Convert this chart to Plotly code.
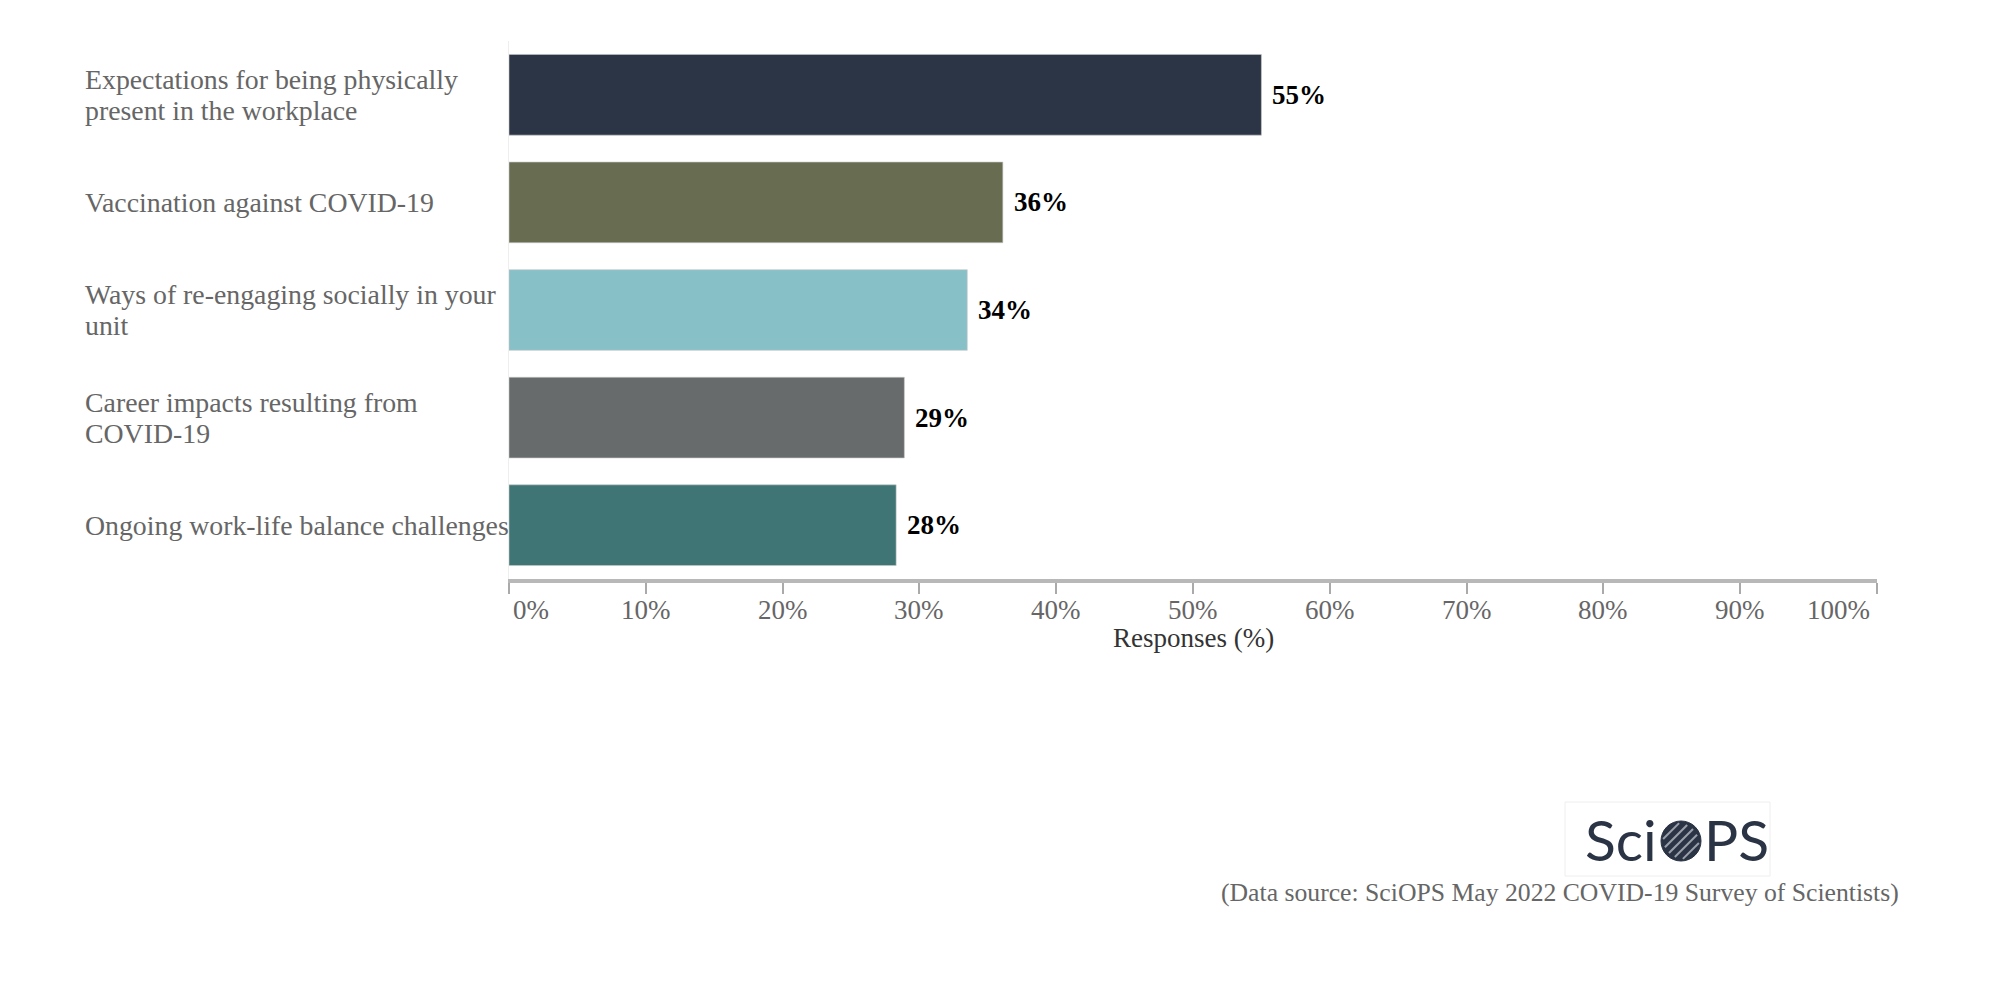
import math
import plotly.graph_objects as go

# ---- data ----
categories = [
    "Expectations for being physically<br>present in the workplace",
    "Vaccination against COVID-19",
    "Ways of re-engaging socially in your<br>unit",
    "Career impacts resulting from<br>COVID-19",
    "Ongoing work-life balance challenges",
]
values = [55.0, 36.1, 33.5, 28.9, 28.3]
value_labels = ["55%", "36%", "34%", "29%", "28%"]
bar_colors = ["#2c3546", "#686c51", "#88c0c8", "#676b6b", "#3f7574"]
tick_values = [0, 10, 20, 30, 40, 50, 60, 70, 80, 90, 100]
tick_labels = ["0%", "10%", "20%", "30%", "40%", "50%", "60%", "70%", "80%", "90%", "100%"]
x_title = "Responses (%)"
source_text = "(Data source: SciOPS May 2022 COVID-19 Survey of Scientists)"

W, H = 1990, 988
L, R, T, B = 509, 113, 41, 409
PW = W - L - R
PH = H - T - B
SERIF = "Liberation Serif, Times New Roman, serif"


def px(x):
    return (x - L) / PW


def py(y):
    return (H - B - y) / PH


ids = list(range(len(categories)))

fig = go.Figure()
fig.add_trace(go.Bar(
    x=values, y=ids, orientation="h", width=0.75,
    marker=dict(color=bar_colors, line=dict(width=1, color="rgba(200,200,200,0.6)")),
    hoverinfo="skip",
))

ann = []
# category labels (left-aligned, custom line spacing)
for i, c in enumerate(categories):
    lines = c.split("<br>")
    n = len(lines)
    for j, ln in enumerate(lines):
        shift = (j - (n - 1) / 2) * -31
        ann.append(dict(x=px(83), xref="paper", y=i, yref="y", text=ln,
                        xanchor="left", yanchor="middle", showarrow=False,
                        yshift=shift, font=dict(family=SERIF, size=27.8, color="#666666")))

# value labels
for i, (v, t) in enumerate(zip(values, value_labels)):
    ann.append(dict(x=v, xref="x", y=i, yref="y", text="<b>%s</b>" % t,
                    xanchor="left", yanchor="middle", showarrow=False, xshift=9,
                    font=dict(family=SERIF, size=27, color="#000000")))

# tick labels
for k, (tv, tl) in enumerate(zip(tick_values, tick_labels)):
    if k == 0:
        xa, xs = "left", 2
    elif k == len(tick_values) - 1:
        xa, xs = "right", -5
    else:
        xa, xs = "center", 0
    ann.append(dict(x=tv, xref="x", y=py(610), yref="paper", text=tl,
                    xanchor=xa, yanchor="middle", showarrow=False, xshift=xs,
                    font=dict(family=SERIF, size=27, color="#666666")))

# axis title
ann.append(dict(x=0.5, xref="paper", y=py(638), yref="paper", text=x_title,
                xanchor="center", yanchor="middle", showarrow=False,
                font=dict(family=SERIF, size=27, color="#333333")))

# source
ann.append(dict(x=px(1901), xref="paper", y=py(892), yref="paper", text=source_text,
                xanchor="right", yanchor="middle", showarrow=False,
                font=dict(family=SERIF, size=25.7, color="#666666")))

# logo text
LOGO = "#2b3445"
ann.append(dict(x=px(1659), xref="paper", y=py(839), yref="paper", text="Sci",
                xanchor="right", yanchor="middle", showarrow=False,
                font=dict(family="Lato, sans-serif", size=57, color=LOGO)))
ann.append(dict(x=px(1702), xref="paper", y=py(839), yref="paper", text="PS",
                xanchor="left", yanchor="middle", showarrow=False,
                font=dict(family="Lato, sans-serif", size=57, color=LOGO)))

shapes = []
# logo box
shapes.append(dict(type="rect", xref="paper", yref="paper",
                   x0=px(1565), x1=px(1770), y0=py(876), y1=py(802),
                   line=dict(color="#eeeeee", width=1), fillcolor="rgba(0,0,0,0)", layer="below"))
# logo circle
cx, cy, r = 1681, 841, 20
shapes.append(dict(type="circle", xref="paper", yref="paper",
                   x0=px(cx - r), x1=px(cx + r), y0=py(cy + r), y1=py(cy - r),
                   line=dict(color=LOGO, width=1), fillcolor=LOGO))
# hatch lines across the circle
for d in [-14, -7, 0, 7, 14]:
    half = math.sqrt(max(r * r - d * d, 0)) - 3
    ox, oy = cx + d / math.sqrt(2), cy + d / math.sqrt(2)
    dx, dy = half / math.sqrt(2), -half / math.sqrt(2)
    shapes.append(dict(type="line", xref="paper", yref="paper",
                       x0=px(ox - dx), y0=py(oy - dy), x1=px(ox + dx), y1=py(oy + dy),
                       line=dict(color="#9aa0aa", width=2)))

fig.update_layout(
    width=W, height=H,
    margin=dict(l=L, r=R, t=T, b=B),
    paper_bgcolor="white", plot_bgcolor="white",
    showlegend=False,
    bargap=0.25,
    annotations=ann,
    shapes=shapes,
    xaxis=dict(range=[0, 100], tickvals=tick_values, showticklabels=False,
               showgrid=False, zeroline=False, showline=True,
               linecolor="#b8b8b8", linewidth=4, ticks="outside", ticklen=11,
               tickcolor="#aaaaaa", tickwidth=2, fixedrange=True),
    yaxis=dict(range=[len(categories) - 0.5, -0.5], showticklabels=False,
               showgrid=False, zeroline=False, showline=True,
               linecolor="#eeeeee", linewidth=1, ticks="", fixedrange=True),
)

fig.write_html("out.html")
